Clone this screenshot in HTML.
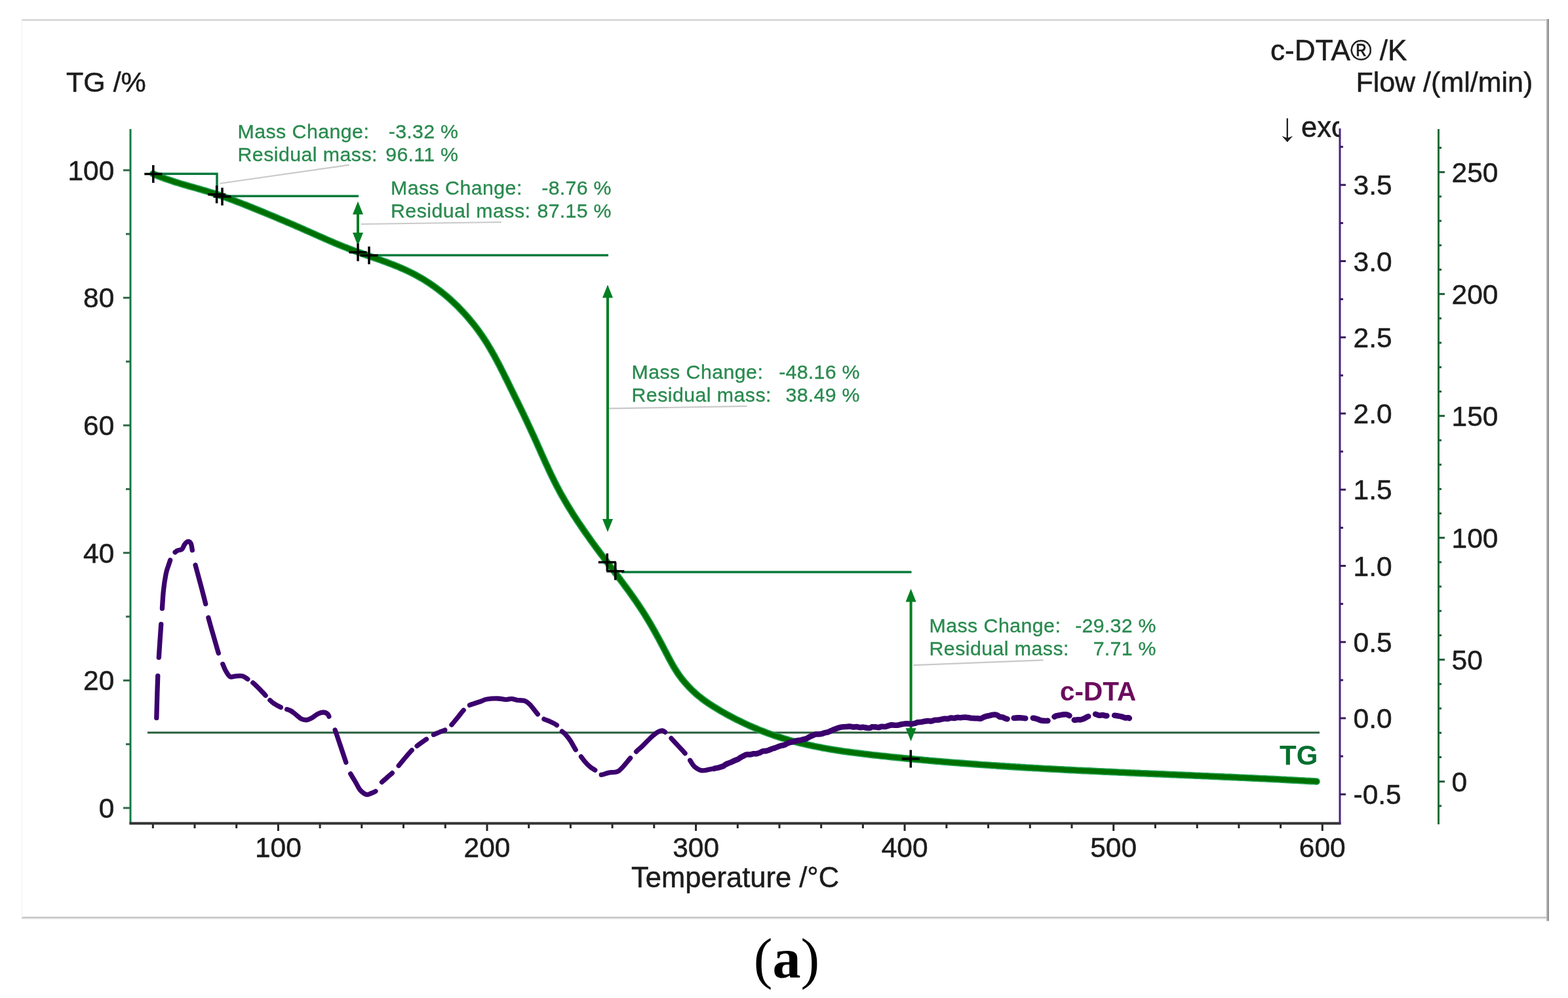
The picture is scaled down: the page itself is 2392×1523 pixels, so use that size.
<!DOCTYPE html><html><head><meta charset="utf-8"><title>TG / c-DTA</title>
<style>html,body{margin:0;padding:0;background:#fff;width:2392px;height:1523px;overflow:hidden}svg{display:block;filter:blur(0.55px)}text{font-family:"Liberation Sans",Arial,sans-serif}</style></head><body>
<svg xmlns="http://www.w3.org/2000/svg" width="2392" height="1523" viewBox="0 0 2392 1523">
<defs><clipPath id="exoclip"><rect x="0" y="0" width="2043" height="400"/></clipPath></defs>
<rect width="2392" height="1523" fill="#fff"/>
<line x1="33" y1="30.5" x2="2362" y2="30.5" stroke="#d3d3d3" stroke-width="2.5"/>
<line x1="33" y1="1400" x2="2362" y2="1400" stroke="#c4c4c4" stroke-width="2"/>
<line x1="33" y1="1401.8" x2="2362" y2="1401.8" stroke="#e0e0e0" stroke-width="1.6"/>
<line x1="33.5" y1="31" x2="33.5" y2="1400" stroke="#f6f6f6" stroke-width="2"/>
<line x1="2360" y1="29" x2="2360" y2="1405.5" stroke="#b6b6b6" stroke-width="2"/>
<line x1="2362" y1="29" x2="2362" y2="1405.5" stroke="#8f8f8f" stroke-width="2"/>
<line x1="199" y1="197" x2="199" y2="1258" stroke="#0b7d45" stroke-width="3"/>
<line x1="188" y1="1233" x2="199" y2="1233" stroke="#2f6a46" stroke-width="3"/>
<text x="174.3" y="1248" font-size="42.5" fill="#1c1c1c" stroke="#1c1c1c" stroke-width="0.5" text-anchor="end">0</text>
<line x1="192" y1="1135.7" x2="199" y2="1135.7" stroke="#2f6a46" stroke-width="3"/>
<line x1="188" y1="1038.4" x2="199" y2="1038.4" stroke="#2f6a46" stroke-width="3"/>
<text x="174.3" y="1053.4" font-size="42.5" fill="#1c1c1c" stroke="#1c1c1c" stroke-width="0.5" text-anchor="end">20</text>
<line x1="192" y1="941" x2="199" y2="941" stroke="#2f6a46" stroke-width="3"/>
<line x1="188" y1="843.7" x2="199" y2="843.7" stroke="#2f6a46" stroke-width="3"/>
<text x="174.3" y="858.7" font-size="42.5" fill="#1c1c1c" stroke="#1c1c1c" stroke-width="0.5" text-anchor="end">40</text>
<line x1="192" y1="746.4" x2="199" y2="746.4" stroke="#2f6a46" stroke-width="3"/>
<line x1="188" y1="649.1" x2="199" y2="649.1" stroke="#2f6a46" stroke-width="3"/>
<text x="174.3" y="664.1" font-size="42.5" fill="#1c1c1c" stroke="#1c1c1c" stroke-width="0.5" text-anchor="end">60</text>
<line x1="192" y1="551.8" x2="199" y2="551.8" stroke="#2f6a46" stroke-width="3"/>
<line x1="188" y1="454.4" x2="199" y2="454.4" stroke="#2f6a46" stroke-width="3"/>
<text x="174.3" y="469.4" font-size="42.5" fill="#1c1c1c" stroke="#1c1c1c" stroke-width="0.5" text-anchor="end">80</text>
<line x1="192" y1="357.1" x2="199" y2="357.1" stroke="#2f6a46" stroke-width="3"/>
<line x1="188" y1="259.8" x2="199" y2="259.8" stroke="#2f6a46" stroke-width="3"/>
<text x="174.3" y="274.8" font-size="42.5" fill="#1c1c1c" stroke="#1c1c1c" stroke-width="0.5" text-anchor="end">100</text>
<line x1="233.3" y1="1256" x2="233.3" y2="1264" stroke="#262626" stroke-width="3"/>
<line x1="297" y1="1256" x2="297" y2="1264" stroke="#262626" stroke-width="3"/>
<line x1="360.7" y1="1256" x2="360.7" y2="1264" stroke="#262626" stroke-width="3"/>
<line x1="424.4" y1="1256" x2="424.4" y2="1268" stroke="#262626" stroke-width="3"/>
<text x="424.4" y="1308.3" font-size="42.5" fill="#1c1c1c" stroke="#1c1c1c" stroke-width="0.5" text-anchor="middle">100</text>
<line x1="488.1" y1="1256" x2="488.1" y2="1264" stroke="#262626" stroke-width="3"/>
<line x1="551.8" y1="1256" x2="551.8" y2="1264" stroke="#262626" stroke-width="3"/>
<line x1="615.5" y1="1256" x2="615.5" y2="1264" stroke="#262626" stroke-width="3"/>
<line x1="679.3" y1="1256" x2="679.3" y2="1264" stroke="#262626" stroke-width="3"/>
<line x1="743" y1="1256" x2="743" y2="1268" stroke="#262626" stroke-width="3"/>
<text x="743" y="1308.3" font-size="42.5" fill="#1c1c1c" stroke="#1c1c1c" stroke-width="0.5" text-anchor="middle">200</text>
<line x1="806.7" y1="1256" x2="806.7" y2="1264" stroke="#262626" stroke-width="3"/>
<line x1="870.4" y1="1256" x2="870.4" y2="1264" stroke="#262626" stroke-width="3"/>
<line x1="934.1" y1="1256" x2="934.1" y2="1264" stroke="#262626" stroke-width="3"/>
<line x1="997.8" y1="1256" x2="997.8" y2="1264" stroke="#262626" stroke-width="3"/>
<line x1="1061.6" y1="1256" x2="1061.6" y2="1268" stroke="#262626" stroke-width="3"/>
<text x="1061.6" y="1308.3" font-size="42.5" fill="#1c1c1c" stroke="#1c1c1c" stroke-width="0.5" text-anchor="middle">300</text>
<line x1="1125.3" y1="1256" x2="1125.3" y2="1264" stroke="#262626" stroke-width="3"/>
<line x1="1189" y1="1256" x2="1189" y2="1264" stroke="#262626" stroke-width="3"/>
<line x1="1252.7" y1="1256" x2="1252.7" y2="1264" stroke="#262626" stroke-width="3"/>
<line x1="1316.4" y1="1256" x2="1316.4" y2="1264" stroke="#262626" stroke-width="3"/>
<line x1="1380.1" y1="1256" x2="1380.1" y2="1268" stroke="#262626" stroke-width="3"/>
<text x="1380.1" y="1308.3" font-size="42.5" fill="#1c1c1c" stroke="#1c1c1c" stroke-width="0.5" text-anchor="middle">400</text>
<line x1="1443.9" y1="1256" x2="1443.9" y2="1264" stroke="#262626" stroke-width="3"/>
<line x1="1507.6" y1="1256" x2="1507.6" y2="1264" stroke="#262626" stroke-width="3"/>
<line x1="1571.3" y1="1256" x2="1571.3" y2="1264" stroke="#262626" stroke-width="3"/>
<line x1="1635" y1="1256" x2="1635" y2="1264" stroke="#262626" stroke-width="3"/>
<line x1="1698.7" y1="1256" x2="1698.7" y2="1268" stroke="#262626" stroke-width="3"/>
<text x="1698.7" y="1308.3" font-size="42.5" fill="#1c1c1c" stroke="#1c1c1c" stroke-width="0.5" text-anchor="middle">500</text>
<line x1="1762.4" y1="1256" x2="1762.4" y2="1264" stroke="#262626" stroke-width="3"/>
<line x1="1826.2" y1="1256" x2="1826.2" y2="1264" stroke="#262626" stroke-width="3"/>
<line x1="1889.9" y1="1256" x2="1889.9" y2="1264" stroke="#262626" stroke-width="3"/>
<line x1="1953.6" y1="1256" x2="1953.6" y2="1264" stroke="#262626" stroke-width="3"/>
<line x1="2017.3" y1="1256" x2="2017.3" y2="1268" stroke="#262626" stroke-width="3"/>
<text x="2017.3" y="1308.3" font-size="42.5" fill="#1c1c1c" stroke="#1c1c1c" stroke-width="0.5" text-anchor="middle">600</text>
<line x1="197.5" y1="1256.5" x2="2045.5" y2="1256.5" stroke="#333" stroke-width="4"/>
<line x1="2044" y1="196" x2="2044" y2="1258" stroke="#4b2380" stroke-width="3"/>
<line x1="2044" y1="1212.2" x2="2053" y2="1212.2" stroke="#3a1a60" stroke-width="3"/>
<text x="2064.5" y="1227.2" font-size="42.5" fill="#1c1c1c" stroke="#1c1c1c" stroke-width="0.5">-0.5</text>
<line x1="2044" y1="1154.1" x2="2049" y2="1154.1" stroke="#3a1a60" stroke-width="3"/>
<line x1="2044" y1="1096" x2="2053" y2="1096" stroke="#3a1a60" stroke-width="3"/>
<text x="2064.5" y="1111" font-size="42.5" fill="#1c1c1c" stroke="#1c1c1c" stroke-width="0.5">0.0</text>
<line x1="2044" y1="1037.9" x2="2049" y2="1037.9" stroke="#3a1a60" stroke-width="3"/>
<line x1="2044" y1="979.8" x2="2053" y2="979.8" stroke="#3a1a60" stroke-width="3"/>
<text x="2064.5" y="994.8" font-size="42.5" fill="#1c1c1c" stroke="#1c1c1c" stroke-width="0.5">0.5</text>
<line x1="2044" y1="921.6" x2="2049" y2="921.6" stroke="#3a1a60" stroke-width="3"/>
<line x1="2044" y1="863.5" x2="2053" y2="863.5" stroke="#3a1a60" stroke-width="3"/>
<text x="2064.5" y="878.5" font-size="42.5" fill="#1c1c1c" stroke="#1c1c1c" stroke-width="0.5">1.0</text>
<line x1="2044" y1="805.4" x2="2049" y2="805.4" stroke="#3a1a60" stroke-width="3"/>
<line x1="2044" y1="747.2" x2="2053" y2="747.2" stroke="#3a1a60" stroke-width="3"/>
<text x="2064.5" y="762.2" font-size="42.5" fill="#1c1c1c" stroke="#1c1c1c" stroke-width="0.5">1.5</text>
<line x1="2044" y1="689.1" x2="2049" y2="689.1" stroke="#3a1a60" stroke-width="3"/>
<line x1="2044" y1="631" x2="2053" y2="631" stroke="#3a1a60" stroke-width="3"/>
<text x="2064.5" y="646" font-size="42.5" fill="#1c1c1c" stroke="#1c1c1c" stroke-width="0.5">2.0</text>
<line x1="2044" y1="572.9" x2="2049" y2="572.9" stroke="#3a1a60" stroke-width="3"/>
<line x1="2044" y1="514.8" x2="2053" y2="514.8" stroke="#3a1a60" stroke-width="3"/>
<text x="2064.5" y="529.8" font-size="42.5" fill="#1c1c1c" stroke="#1c1c1c" stroke-width="0.5">2.5</text>
<line x1="2044" y1="456.6" x2="2049" y2="456.6" stroke="#3a1a60" stroke-width="3"/>
<line x1="2044" y1="398.5" x2="2053" y2="398.5" stroke="#3a1a60" stroke-width="3"/>
<text x="2064.5" y="413.5" font-size="42.5" fill="#1c1c1c" stroke="#1c1c1c" stroke-width="0.5">3.0</text>
<line x1="2044" y1="340.4" x2="2049" y2="340.4" stroke="#3a1a60" stroke-width="3"/>
<line x1="2044" y1="282.2" x2="2053" y2="282.2" stroke="#3a1a60" stroke-width="3"/>
<text x="2064.5" y="297.2" font-size="42.5" fill="#1c1c1c" stroke="#1c1c1c" stroke-width="0.5">3.5</text>
<line x1="2044" y1="224.1" x2="2049" y2="224.1" stroke="#3a1a60" stroke-width="3"/>
<line x1="2194.5" y1="197" x2="2194.5" y2="1258" stroke="#17703c" stroke-width="3"/>
<line x1="2194.5" y1="1229.9" x2="2199" y2="1229.9" stroke="#1d5a34" stroke-width="3"/>
<line x1="2194.5" y1="1192.7" x2="2204" y2="1192.7" stroke="#1d5a34" stroke-width="3"/>
<text x="2214.5" y="1207.7" font-size="42.5" fill="#1c1c1c" stroke="#1c1c1c" stroke-width="0.5">0</text>
<line x1="2194.5" y1="1155.5" x2="2199" y2="1155.5" stroke="#1d5a34" stroke-width="3"/>
<line x1="2194.5" y1="1118.3" x2="2199" y2="1118.3" stroke="#1d5a34" stroke-width="3"/>
<line x1="2194.5" y1="1081.1" x2="2199" y2="1081.1" stroke="#1d5a34" stroke-width="3"/>
<line x1="2194.5" y1="1043.9" x2="2199" y2="1043.9" stroke="#1d5a34" stroke-width="3"/>
<line x1="2194.5" y1="1006.7" x2="2204" y2="1006.7" stroke="#1d5a34" stroke-width="3"/>
<text x="2214.5" y="1021.7" font-size="42.5" fill="#1c1c1c" stroke="#1c1c1c" stroke-width="0.5">50</text>
<line x1="2194.5" y1="969.5" x2="2199" y2="969.5" stroke="#1d5a34" stroke-width="3"/>
<line x1="2194.5" y1="932.3" x2="2199" y2="932.3" stroke="#1d5a34" stroke-width="3"/>
<line x1="2194.5" y1="895.1" x2="2199" y2="895.1" stroke="#1d5a34" stroke-width="3"/>
<line x1="2194.5" y1="857.9" x2="2199" y2="857.9" stroke="#1d5a34" stroke-width="3"/>
<line x1="2194.5" y1="820.7" x2="2204" y2="820.7" stroke="#1d5a34" stroke-width="3"/>
<text x="2214.5" y="835.7" font-size="42.5" fill="#1c1c1c" stroke="#1c1c1c" stroke-width="0.5">100</text>
<line x1="2194.5" y1="783.5" x2="2199" y2="783.5" stroke="#1d5a34" stroke-width="3"/>
<line x1="2194.5" y1="746.3" x2="2199" y2="746.3" stroke="#1d5a34" stroke-width="3"/>
<line x1="2194.5" y1="709.1" x2="2199" y2="709.1" stroke="#1d5a34" stroke-width="3"/>
<line x1="2194.5" y1="671.9" x2="2199" y2="671.9" stroke="#1d5a34" stroke-width="3"/>
<line x1="2194.5" y1="634.7" x2="2204" y2="634.7" stroke="#1d5a34" stroke-width="3"/>
<text x="2214.5" y="649.7" font-size="42.5" fill="#1c1c1c" stroke="#1c1c1c" stroke-width="0.5">150</text>
<line x1="2194.5" y1="597.5" x2="2199" y2="597.5" stroke="#1d5a34" stroke-width="3"/>
<line x1="2194.5" y1="560.3" x2="2199" y2="560.3" stroke="#1d5a34" stroke-width="3"/>
<line x1="2194.5" y1="523.1" x2="2199" y2="523.1" stroke="#1d5a34" stroke-width="3"/>
<line x1="2194.5" y1="485.9" x2="2199" y2="485.9" stroke="#1d5a34" stroke-width="3"/>
<line x1="2194.5" y1="448.7" x2="2204" y2="448.7" stroke="#1d5a34" stroke-width="3"/>
<text x="2214.5" y="463.7" font-size="42.5" fill="#1c1c1c" stroke="#1c1c1c" stroke-width="0.5">200</text>
<line x1="2194.5" y1="411.5" x2="2199" y2="411.5" stroke="#1d5a34" stroke-width="3"/>
<line x1="2194.5" y1="374.3" x2="2199" y2="374.3" stroke="#1d5a34" stroke-width="3"/>
<line x1="2194.5" y1="337.1" x2="2199" y2="337.1" stroke="#1d5a34" stroke-width="3"/>
<line x1="2194.5" y1="299.9" x2="2199" y2="299.9" stroke="#1d5a34" stroke-width="3"/>
<line x1="2194.5" y1="262.7" x2="2204" y2="262.7" stroke="#1d5a34" stroke-width="3"/>
<text x="2214.5" y="277.7" font-size="42.5" fill="#1c1c1c" stroke="#1c1c1c" stroke-width="0.5">250</text>
<line x1="2194.5" y1="225.5" x2="2199" y2="225.5" stroke="#1d5a34" stroke-width="3"/>
<text x="101" y="139.5" font-size="43" fill="#1c1c1c" stroke="#1c1c1c" stroke-width="0.5">TG /%</text>
<text x="1938" y="91.6" font-size="44.2" fill="#1c1c1c" stroke="#1c1c1c" stroke-width="0.5">c-DTA&#174; /K</text>
<text x="2068.4" y="139.8" font-size="43" fill="#1c1c1c" stroke="#1c1c1c" stroke-width="0.5">Flow /(ml/min)</text>
<g clip-path="url(#exoclip)">
<text transform="translate(1963.8 214.3) scale(1.3 1)" x="0" y="0" font-size="42.5" text-anchor="middle" fill="#1c1c1c" style="font-family:'WenQuanYi Zen Hei','Liberation Sans',sans-serif">&#8595;</text>
<text x="1985" y="209" font-size="43.5" fill="#1c1c1c" stroke="#1c1c1c" stroke-width="0.5">exo</text>
</g>
<text x="963" y="1353.8" font-size="43.5" fill="#1c1c1c" stroke="#1c1c1c" stroke-width="0.5">Temperature /&#176;C</text>
<line x1="225" y1="1118" x2="2013" y2="1118" stroke="#285e3a" stroke-width="3"/>
<line x1="335.5" y1="280" x2="532.8" y2="251.7" stroke="#c9c9c9" stroke-width="2.2"/>
<line x1="551" y1="342" x2="764.8" y2="339" stroke="#c9c9c9" stroke-width="2.2"/>
<line x1="928.8" y1="623.4" x2="1139.5" y2="619.9" stroke="#c9c9c9" stroke-width="2.2"/>
<line x1="1393.2" y1="1015.2" x2="1591.6" y2="1007.3" stroke="#c9c9c9" stroke-width="2.2"/>
<path d="M233.4,265.2 237.3,266.9 241.2,268.5 245.1,270.1 249,271.6 252.9,273 256.8,274.3 260.6,275.6 264.5,276.9 268.3,278.1 272.2,279.3 276,280.5 279.9,281.6 283.7,282.7 287.5,283.8 291.3,284.9 295.1,285.9 298.9,287 302.7,288.1 306.5,289.2 310.3,290.3 314.1,291.4 317.8,292.5 321.6,293.7 325.4,294.9 329.1,296.1 332.9,297.3 336.6,298.6 340.4,299.9 344.1,301.3 347.8,302.6 351.6,304 355.3,305.4 359,306.8 362.7,308.2 366.5,309.6 370.2,311.1 373.9,312.5 377.6,314 381.3,315.5 385,317 388.7,318.5 392.4,320 396.1,321.5 399.8,323 403.5,324.5 407.2,326.1 410.9,327.6 414.5,329.1 418.2,330.7 421.9,332.2 425.6,333.8 429.3,335.3 433,336.9 436.6,338.5 440.3,340 444,341.6 447.7,343.2 451.4,344.8 455.1,346.4 458.7,348 462.4,349.6 466.1,351.3 469.8,352.9 473.5,354.5 477.2,356.2 480.9,357.8 484.6,359.5 488.3,361.1 492,362.7 495.7,364.4 499.4,366 503.1,367.6 506.8,369.2 510.5,370.8 514.2,372.3 517.9,373.9 521.6,375.4 525.3,376.9 529.1,378.3 532.8,379.8 536.5,381.2 540.3,382.6 544,384 547.8,385.3 551.5,386.6 555.2,388 559,389.3 562.7,390.6 566.4,391.9 570.2,393.2 573.9,394.5 577.6,395.8 581.3,397.1 585,398.5 588.7,399.8 592.4,401.2 596,402.6 599.7,404 603.4,405.5 607,406.9 610.6,408.5 614.2,410 617.8,411.6 621.4,413.3 624.9,415 628.5,416.7 632,418.5 635.5,420.4 638.9,422.3 642.4,424.3 645.8,426.3 649.2,428.4 652.6,430.6 656,432.8 659.3,435.1 662.6,437.4 665.8,439.8 669.1,442.2 672.3,444.7 675.5,447.2 678.6,449.8 681.7,452.4 684.8,455.1 687.8,457.8 690.9,460.6 693.8,463.4 696.8,466.2 699.7,469.1 702.5,472.1 705.3,475 708.1,478 710.8,481 713.5,484.1 716.2,487.2 718.8,490.3 721.3,493.4 723.8,496.6 726.3,499.8 728.7,503 731,506.2 733.3,509.5 735.6,512.7 737.8,516 740,519.4 742.1,522.7 744.2,526 746.2,529.4 748.2,532.8 750.2,536.2 752.1,539.6 754.1,543 755.9,546.5 757.8,549.9 759.6,553.4 761.5,556.9 763.3,560.4 765,563.9 766.8,567.4 768.6,570.9 770.3,574.5 772.1,578 773.9,581.6 775.6,585.2 777.4,588.8 779.1,592.4 780.9,596 782.7,599.6 784.4,603.2 786.2,606.8 788,610.4 789.8,614.1 791.5,617.7 793.3,621.3 795.1,625 796.8,628.6 798.6,632.3 800.3,635.9 802.1,639.6 803.8,643.3 805.5,646.9 807.2,650.6 808.9,654.3 810.6,657.9 812.3,661.6 814,665.2 815.6,668.9 817.3,672.6 818.9,676.2 820.5,679.9 822.2,683.5 823.8,687.2 825.4,690.8 827,694.5 828.7,698.1 830.3,701.7 831.9,705.4 833.6,709 835.3,712.6 836.9,716.2 838.6,719.8 840.3,723.4 842,726.9 843.8,730.5 845.5,734.1 847.3,737.6 849.1,741.2 851,744.7 852.8,748.2 854.7,751.7 856.6,755.2 858.6,758.7 860.6,762.1 862.6,765.6 864.6,769 866.7,772.5 868.8,775.9 870.9,779.3 873,782.7 875.1,786.1 877.3,789.4 879.5,792.8 881.7,796.2 884,799.5 886.2,802.8 888.5,806.1 890.8,809.5 893,812.8 895.4,816 897.7,819.3 900,822.6 902.3,825.9 904.7,829.1 907.1,832.4 909.4,835.6 911.8,838.8 914.2,842 916.6,845.2 919,848.4 921.4,851.6 923.8,854.8 926.2,858 928.6,861.2 931,864.3 933.4,867.5 935.8,870.6 938.2,873.8 940.6,877 943,880.1 945.3,883.3 947.7,886.4 950.1,889.6 952.4,892.8 954.8,896 957.1,899.2 959.5,902.4 961.8,905.6 964.1,908.8 966.4,912.1 968.7,915.3 970.9,918.6 973.2,921.9 975.4,925.2 977.6,928.6 979.8,931.9 981.9,935.3 984.1,938.7 986.2,942.1 988.3,945.6 990.4,949.1 992.5,952.6 994.5,956.1 996.5,959.6 998.5,963.1 1000.5,966.7 1002.4,970.2 1004.4,973.8 1006.3,977.4 1008.2,980.9 1010.1,984.5 1011.9,988 1013.8,991.6 1015.6,995.1 1017.5,998.6 1019.3,1002.1 1021.1,1005.6 1023,1009 1024.9,1012.5 1026.8,1015.9 1028.8,1019.2 1030.9,1022.6 1033,1025.9 1035.2,1029.2 1037.5,1032.4 1039.9,1035.6 1042.4,1038.7 1045,1041.8 1047.7,1044.8 1050.4,1047.8 1053.3,1050.7 1056.1,1053.6 1059.1,1056.3 1062.1,1059.1 1065.2,1061.7 1068.3,1064.2 1071.5,1066.7 1074.7,1069.1 1078,1071.4 1081.3,1073.7 1084.6,1075.8 1088,1078 1091.4,1080.1 1094.8,1082.1 1098.2,1084.2 1101.6,1086.2 1105.1,1088.1 1108.6,1090.1 1112.1,1092 1115.6,1093.9 1119.1,1095.7 1122.6,1097.6 1126.2,1099.3 1129.8,1101.1 1133.3,1102.8 1136.9,1104.5 1140.6,1106.2 1144.2,1107.8 1147.8,1109.4 1151.5,1111 1155.2,1112.5 1158.9,1114.1 1162.6,1115.5 1166.3,1117 1170,1118.4 1173.7,1119.7 1177.5,1121.1 1181.2,1122.4 1185,1123.7 1188.8,1124.9 1192.6,1126.1 1196.4,1127.3 1200.2,1128.4 1204,1129.5 1207.8,1130.6 1211.7,1131.6 1215.5,1132.6 1219.4,1133.6 1223.3,1134.5 1227.1,1135.4 1231,1136.3 1234.9,1137.2 1238.8,1138 1242.7,1138.9 1246.6,1139.6 1250.6,1140.4 1254.5,1141.2 1258.4,1141.9 1262.4,1142.6 1266.3,1143.3 1270.3,1143.9 1274.2,1144.6 1278.2,1145.2 1282.1,1145.8 1286.1,1146.4 1290.1,1146.9 1294.1,1147.5 1298,1148 1302,1148.6 1306,1149.1 1310,1149.6 1314,1150.1 1318,1150.6 1322,1151 1326,1151.5 1329.9,1152 1333.9,1152.4 1337.9,1152.8 1341.9,1153.3 1345.9,1153.7 1349.9,1154.1 1353.9,1154.5 1357.9,1155 1361.9,1155.4 1365.9,1155.8 1369.9,1156.2 1373.9,1156.6 1377.9,1157 1381.9,1157.4 1385.9,1157.7 1389.9,1158.1 1393.9,1158.5 1397.9,1158.9 1401.8,1159.2 1405.8,1159.6 1409.8,1160 1413.8,1160.3 1417.8,1160.7 1421.8,1161 1425.8,1161.4 1429.8,1161.7 1433.8,1162 1437.8,1162.4 1441.8,1162.7 1445.7,1163 1449.7,1163.4 1453.7,1163.7 1457.7,1164 1461.7,1164.3 1465.7,1164.6 1469.7,1164.9 1473.7,1165.2 1477.7,1165.5 1481.6,1165.8 1485.6,1166.1 1489.6,1166.4 1493.6,1166.7 1497.6,1167 1501.6,1167.2 1505.6,1167.5 1509.6,1167.8 1513.5,1168.1 1517.5,1168.3 1521.5,1168.6 1525.5,1168.9 1529.5,1169.1 1533.5,1169.4 1537.5,1169.6 1541.4,1169.9 1545.4,1170.1 1549.4,1170.4 1553.4,1170.6 1557.4,1170.9 1561.4,1171.1 1565.4,1171.4 1569.3,1171.6 1573.3,1171.8 1577.3,1172.1 1581.3,1172.3 1585.3,1172.5 1589.3,1172.7 1593.3,1173 1597.2,1173.2 1601.2,1173.4 1605.2,1173.6 1609.2,1173.8 1613.2,1174 1617.2,1174.2 1621.2,1174.4 1625.1,1174.7 1629.1,1174.9 1633.1,1175.1 1637.1,1175.3 1641.1,1175.5 1645.1,1175.7 1649.1,1175.9 1653.1,1176.1 1657,1176.3 1661,1176.4 1665,1176.6 1669,1176.8 1673,1177 1677,1177.2 1681,1177.4 1684.9,1177.6 1688.9,1177.8 1692.9,1177.9 1696.9,1178.1 1700.9,1178.3 1704.9,1178.5 1708.9,1178.7 1712.9,1178.8 1716.8,1179 1720.8,1179.2 1724.8,1179.4 1728.8,1179.5 1732.8,1179.7 1736.8,1179.9 1740.8,1180.1 1744.8,1180.2 1748.7,1180.4 1752.7,1180.6 1756.7,1180.8 1760.7,1180.9 1764.7,1181.1 1768.7,1181.3 1772.7,1181.4 1776.7,1181.6 1780.7,1181.8 1784.7,1182 1788.6,1182.1 1792.6,1182.3 1796.6,1182.5 1800.6,1182.6 1804.6,1182.8 1808.6,1183 1812.6,1183.1 1816.6,1183.3 1820.6,1183.5 1824.6,1183.7 1828.6,1183.8 1832.6,1184 1836.6,1184.2 1840.5,1184.3 1844.5,1184.5 1848.5,1184.7 1852.5,1184.9 1856.5,1185 1860.5,1185.2 1864.5,1185.4 1868.5,1185.6 1872.5,1185.7 1876.5,1185.9 1880.5,1186.1 1884.5,1186.3 1888.5,1186.5 1892.5,1186.7 1896.5,1186.8 1900.5,1187 1904.5,1187.2 1908.5,1187.4 1912.5,1187.6 1916.5,1187.8 1920.5,1188 1924.5,1188.2 1928.5,1188.3 1932.5,1188.5 1936.5,1188.7 1940.5,1188.9 1944.5,1189.1 1948.5,1189.3 1952.5,1189.5 1956.5,1189.7 1960.5,1189.9 1964.5,1190.2 1968.5,1190.4 1972.6,1190.6 1976.6,1190.8 1980.6,1191 1984.6,1191.2 1988.6,1191.4 1992.6,1191.7 1996.6,1191.9 2000.6,1192.1 2004.6,1192.3 2008.6,1192.6" fill="none" stroke="#23a050" stroke-width="10.6" stroke-linecap="round" stroke-linejoin="round"/>
<path d="M233.4,265.2 237.3,266.9 241.2,268.5 245.1,270.1 249,271.6 252.9,273 256.8,274.3 260.6,275.6 264.5,276.9 268.3,278.1 272.2,279.3 276,280.5 279.9,281.6 283.7,282.7 287.5,283.8 291.3,284.9 295.1,285.9 298.9,287 302.7,288.1 306.5,289.2 310.3,290.3 314.1,291.4 317.8,292.5 321.6,293.7 325.4,294.9 329.1,296.1 332.9,297.3 336.6,298.6 340.4,299.9 344.1,301.3 347.8,302.6 351.6,304 355.3,305.4 359,306.8 362.7,308.2 366.5,309.6 370.2,311.1 373.9,312.5 377.6,314 381.3,315.5 385,317 388.7,318.5 392.4,320 396.1,321.5 399.8,323 403.5,324.5 407.2,326.1 410.9,327.6 414.5,329.1 418.2,330.7 421.9,332.2 425.6,333.8 429.3,335.3 433,336.9 436.6,338.5 440.3,340 444,341.6 447.7,343.2 451.4,344.8 455.1,346.4 458.7,348 462.4,349.6 466.1,351.3 469.8,352.9 473.5,354.5 477.2,356.2 480.9,357.8 484.6,359.5 488.3,361.1 492,362.7 495.7,364.4 499.4,366 503.1,367.6 506.8,369.2 510.5,370.8 514.2,372.3 517.9,373.9 521.6,375.4 525.3,376.9 529.1,378.3 532.8,379.8 536.5,381.2 540.3,382.6 544,384 547.8,385.3 551.5,386.6 555.2,388 559,389.3 562.7,390.6 566.4,391.9 570.2,393.2 573.9,394.5 577.6,395.8 581.3,397.1 585,398.5 588.7,399.8 592.4,401.2 596,402.6 599.7,404 603.4,405.5 607,406.9 610.6,408.5 614.2,410 617.8,411.6 621.4,413.3 624.9,415 628.5,416.7 632,418.5 635.5,420.4 638.9,422.3 642.4,424.3 645.8,426.3 649.2,428.4 652.6,430.6 656,432.8 659.3,435.1 662.6,437.4 665.8,439.8 669.1,442.2 672.3,444.7 675.5,447.2 678.6,449.8 681.7,452.4 684.8,455.1 687.8,457.8 690.9,460.6 693.8,463.4 696.8,466.2 699.7,469.1 702.5,472.1 705.3,475 708.1,478 710.8,481 713.5,484.1 716.2,487.2 718.8,490.3 721.3,493.4 723.8,496.6 726.3,499.8 728.7,503 731,506.2 733.3,509.5 735.6,512.7 737.8,516 740,519.4 742.1,522.7 744.2,526 746.2,529.4 748.2,532.8 750.2,536.2 752.1,539.6 754.1,543 755.9,546.5 757.8,549.9 759.6,553.4 761.5,556.9 763.3,560.4 765,563.9 766.8,567.4 768.6,570.9 770.3,574.5 772.1,578 773.9,581.6 775.6,585.2 777.4,588.8 779.1,592.4 780.9,596 782.7,599.6 784.4,603.2 786.2,606.8 788,610.4 789.8,614.1 791.5,617.7 793.3,621.3 795.1,625 796.8,628.6 798.6,632.3 800.3,635.9 802.1,639.6 803.8,643.3 805.5,646.9 807.2,650.6 808.9,654.3 810.6,657.9 812.3,661.6 814,665.2 815.6,668.9 817.3,672.6 818.9,676.2 820.5,679.9 822.2,683.5 823.8,687.2 825.4,690.8 827,694.5 828.7,698.1 830.3,701.7 831.9,705.4 833.6,709 835.3,712.6 836.9,716.2 838.6,719.8 840.3,723.4 842,726.9 843.8,730.5 845.5,734.1 847.3,737.6 849.1,741.2 851,744.7 852.8,748.2 854.7,751.7 856.6,755.2 858.6,758.7 860.6,762.1 862.6,765.6 864.6,769 866.7,772.5 868.8,775.9 870.9,779.3 873,782.7 875.1,786.1 877.3,789.4 879.5,792.8 881.7,796.2 884,799.5 886.2,802.8 888.5,806.1 890.8,809.5 893,812.8 895.4,816 897.7,819.3 900,822.6 902.3,825.9 904.7,829.1 907.1,832.4 909.4,835.6 911.8,838.8 914.2,842 916.6,845.2 919,848.4 921.4,851.6 923.8,854.8 926.2,858 928.6,861.2 931,864.3 933.4,867.5 935.8,870.6 938.2,873.8 940.6,877 943,880.1 945.3,883.3 947.7,886.4 950.1,889.6 952.4,892.8 954.8,896 957.1,899.2 959.5,902.4 961.8,905.6 964.1,908.8 966.4,912.1 968.7,915.3 970.9,918.6 973.2,921.9 975.4,925.2 977.6,928.6 979.8,931.9 981.9,935.3 984.1,938.7 986.2,942.1 988.3,945.6 990.4,949.1 992.5,952.6 994.5,956.1 996.5,959.6 998.5,963.1 1000.5,966.7 1002.4,970.2 1004.4,973.8 1006.3,977.4 1008.2,980.9 1010.1,984.5 1011.9,988 1013.8,991.6 1015.6,995.1 1017.5,998.6 1019.3,1002.1 1021.1,1005.6 1023,1009 1024.9,1012.5 1026.8,1015.9 1028.8,1019.2 1030.9,1022.6 1033,1025.9 1035.2,1029.2 1037.5,1032.4 1039.9,1035.6 1042.4,1038.7 1045,1041.8 1047.7,1044.8 1050.4,1047.8 1053.3,1050.7 1056.1,1053.6 1059.1,1056.3 1062.1,1059.1 1065.2,1061.7 1068.3,1064.2 1071.5,1066.7 1074.7,1069.1 1078,1071.4 1081.3,1073.7 1084.6,1075.8 1088,1078 1091.4,1080.1 1094.8,1082.1 1098.2,1084.2 1101.6,1086.2 1105.1,1088.1 1108.6,1090.1 1112.1,1092 1115.6,1093.9 1119.1,1095.7 1122.6,1097.6 1126.2,1099.3 1129.8,1101.1 1133.3,1102.8 1136.9,1104.5 1140.6,1106.2 1144.2,1107.8 1147.8,1109.4 1151.5,1111 1155.2,1112.5 1158.9,1114.1 1162.6,1115.5 1166.3,1117 1170,1118.4 1173.7,1119.7 1177.5,1121.1 1181.2,1122.4 1185,1123.7 1188.8,1124.9 1192.6,1126.1 1196.4,1127.3 1200.2,1128.4 1204,1129.5 1207.8,1130.6 1211.7,1131.6 1215.5,1132.6 1219.4,1133.6 1223.3,1134.5 1227.1,1135.4 1231,1136.3 1234.9,1137.2 1238.8,1138 1242.7,1138.9 1246.6,1139.6 1250.6,1140.4 1254.5,1141.2 1258.4,1141.9 1262.4,1142.6 1266.3,1143.3 1270.3,1143.9 1274.2,1144.6 1278.2,1145.2 1282.1,1145.8 1286.1,1146.4 1290.1,1146.9 1294.1,1147.5 1298,1148 1302,1148.6 1306,1149.1 1310,1149.6 1314,1150.1 1318,1150.6 1322,1151 1326,1151.5 1329.9,1152 1333.9,1152.4 1337.9,1152.8 1341.9,1153.3 1345.9,1153.7 1349.9,1154.1 1353.9,1154.5 1357.9,1155 1361.9,1155.4 1365.9,1155.8 1369.9,1156.2 1373.9,1156.6 1377.9,1157 1381.9,1157.4 1385.9,1157.7 1389.9,1158.1 1393.9,1158.5 1397.9,1158.9 1401.8,1159.2 1405.8,1159.6 1409.8,1160 1413.8,1160.3 1417.8,1160.7 1421.8,1161 1425.8,1161.4 1429.8,1161.7 1433.8,1162 1437.8,1162.4 1441.8,1162.7 1445.7,1163 1449.7,1163.4 1453.7,1163.7 1457.7,1164 1461.7,1164.3 1465.7,1164.6 1469.7,1164.9 1473.7,1165.2 1477.7,1165.5 1481.6,1165.8 1485.6,1166.1 1489.6,1166.4 1493.6,1166.7 1497.6,1167 1501.6,1167.2 1505.6,1167.5 1509.6,1167.8 1513.5,1168.1 1517.5,1168.3 1521.5,1168.6 1525.5,1168.9 1529.5,1169.1 1533.5,1169.4 1537.5,1169.6 1541.4,1169.9 1545.4,1170.1 1549.4,1170.4 1553.4,1170.6 1557.4,1170.9 1561.4,1171.1 1565.4,1171.4 1569.3,1171.6 1573.3,1171.8 1577.3,1172.1 1581.3,1172.3 1585.3,1172.5 1589.3,1172.7 1593.3,1173 1597.2,1173.2 1601.2,1173.4 1605.2,1173.6 1609.2,1173.8 1613.2,1174 1617.2,1174.2 1621.2,1174.4 1625.1,1174.7 1629.1,1174.9 1633.1,1175.1 1637.1,1175.3 1641.1,1175.5 1645.1,1175.7 1649.1,1175.9 1653.1,1176.1 1657,1176.3 1661,1176.4 1665,1176.6 1669,1176.8 1673,1177 1677,1177.2 1681,1177.4 1684.9,1177.6 1688.9,1177.8 1692.9,1177.9 1696.9,1178.1 1700.9,1178.3 1704.9,1178.5 1708.9,1178.7 1712.9,1178.8 1716.8,1179 1720.8,1179.2 1724.8,1179.4 1728.8,1179.5 1732.8,1179.7 1736.8,1179.9 1740.8,1180.1 1744.8,1180.2 1748.7,1180.4 1752.7,1180.6 1756.7,1180.8 1760.7,1180.9 1764.7,1181.1 1768.7,1181.3 1772.7,1181.4 1776.7,1181.6 1780.7,1181.8 1784.7,1182 1788.6,1182.1 1792.6,1182.3 1796.6,1182.5 1800.6,1182.6 1804.6,1182.8 1808.6,1183 1812.6,1183.1 1816.6,1183.3 1820.6,1183.5 1824.6,1183.7 1828.6,1183.8 1832.6,1184 1836.6,1184.2 1840.5,1184.3 1844.5,1184.5 1848.5,1184.7 1852.5,1184.9 1856.5,1185 1860.5,1185.2 1864.5,1185.4 1868.5,1185.6 1872.5,1185.7 1876.5,1185.9 1880.5,1186.1 1884.5,1186.3 1888.5,1186.5 1892.5,1186.7 1896.5,1186.8 1900.5,1187 1904.5,1187.2 1908.5,1187.4 1912.5,1187.6 1916.5,1187.8 1920.5,1188 1924.5,1188.2 1928.5,1188.3 1932.5,1188.5 1936.5,1188.7 1940.5,1188.9 1944.5,1189.1 1948.5,1189.3 1952.5,1189.5 1956.5,1189.7 1960.5,1189.9 1964.5,1190.2 1968.5,1190.4 1972.6,1190.6 1976.6,1190.8 1980.6,1191 1984.6,1191.2 1988.6,1191.4 1992.6,1191.7 1996.6,1191.9 2000.6,1192.1 2004.6,1192.3 2008.6,1192.6" fill="none" stroke="#006f00" stroke-width="7.4" stroke-linecap="round" stroke-linejoin="round"/>
<path d="M234,265.3 H331 V296" fill="none" stroke="#087a3c" stroke-width="3.5"/>
<line x1="339" y1="299.3" x2="547" y2="299.3" stroke="#087a3c" stroke-width="3.5"/>
<line x1="563" y1="389.4" x2="928" y2="389.4" stroke="#087a3c" stroke-width="3.5"/>
<line x1="948" y1="873" x2="1390.5" y2="873" stroke="#087a3c" stroke-width="3.5"/>
<line x1="546" y1="322.2" x2="546" y2="360" stroke="#047f22" stroke-width="4"/><path d="M546,307.2 L538,327.2 L554,327.2 Z" fill="#047f22"/><path d="M546,375 L538,355 L554,355 Z" fill="#047f22"/>
<line x1="927" y1="449.5" x2="927" y2="797" stroke="#047f22" stroke-width="4"/><path d="M927,434.5 L919,454.5 L935,454.5 Z" fill="#047f22"/><path d="M927,812 L919,792 L935,792 Z" fill="#047f22"/>
<line x1="1389.6" y1="913.5" x2="1389.6" y2="1116.3" stroke="#047f22" stroke-width="4"/><path d="M1389.6,898.5 L1381.6,918.5 L1397.6,918.5 Z" fill="#047f22"/><path d="M1389.6,1131.3 L1381.6,1111.3 L1397.6,1111.3 Z" fill="#047f22"/>
<path d="M220.3,265.5 H247.3 M233.8,252 V279" stroke="#000" stroke-width="3.5" fill="none"/>
<path d="M317.1,296.7 H344.1 M330.6,283.2 V310.2" stroke="#000" stroke-width="3.5" fill="none"/>
<path d="M325.5,300 H352.5 M339,286.5 V313.5" stroke="#000" stroke-width="3.5" fill="none"/>
<path d="M532.5,385 H559.5 M546,371.5 V398.5" stroke="#000" stroke-width="3.5" fill="none"/>
<path d="M549.5,389.7 H576.5 M563,376.2 V403.2" stroke="#000" stroke-width="3.5" fill="none"/>
<path d="M912.8,858.1 H939.8 M926.3,844.6 V871.6" stroke="#000" stroke-width="3.5" fill="none"/>
<path d="M925.3,871.8 H952.3 M938.8,858.3 V885.3" stroke="#000" stroke-width="3.5" fill="none"/>
<path d="M1375.8,1158 H1402.8 M1389.3,1144.5 V1171.5" stroke="#000" stroke-width="3.5" fill="none"/>
<defs><clipPath id="tailclip"><rect x="1088" y="1000" width="700" height="250"/></clipPath></defs>
<path d="M238.8,1095.6 C239,1089.7 239.5,1070.9 239.8,1060 C240.1,1049.1 240.5,1038 240.8,1030 C241.1,1022 241.3,1020.7 241.8,1012 C242.3,1003.3 243.3,988.5 244,978 C244.7,967.5 245.5,956.4 246,949.2 C246.5,942 246.4,942.9 247,935 C247.6,927.1 248.3,911.8 249.3,901.9 C250.3,892 251.8,882.6 253.2,875.6 C254.6,868.6 256.5,864.5 258,860 C259.5,855.5 260.4,851.6 262.4,848.4 C264.4,845.1 267.5,842.2 270,840.5 C272.5,838.8 275.6,839.8 277.5,838.2 C279.4,836.6 280,833 281.5,831 C283,829 285.1,826.6 286.7,826.4 C288.3,826.2 290.1,827 291.3,829.7 C292.5,832.4 292.9,838 293.9,842.8 C294.9,847.6 295.3,850.7 297.2,858.6 C299.1,866.5 302.6,879.1 305.5,890 C308.4,900.9 312.4,916.1 314.3,924.2 C316.2,932.3 315.1,931.4 316.9,938.7 C318.7,946 322.1,958 325,968 C327.9,978 331.8,992 334,999 C336.2,1006 336.7,1005.9 338.4,1010 C340.1,1014.1 342.1,1019.6 344.2,1023.4 C346.3,1027.2 348.4,1031.2 350.9,1032.6 C353.4,1034 356.1,1031.9 359.3,1031.8 C362.5,1031.7 366.9,1031 370.1,1031.8 C373.3,1032.6 375.4,1034.7 378.5,1036.8 C381.6,1038.9 384.7,1040.9 388.5,1044.3 C392.3,1047.7 397.6,1053.3 401.1,1056.9 C404.6,1060.5 406.6,1063.3 409.4,1066.1 C412.2,1068.9 414.3,1071.2 417.8,1073.6 C421.3,1076 426.1,1078.5 430.3,1080.3 C434.5,1082.1 439.4,1082.7 442.9,1084.4 C446.4,1086.1 448.4,1088.2 451.2,1090.3 C454,1092.4 456.8,1095.6 459.6,1097 C462.4,1098.4 465.2,1099 468,1098.7 C470.8,1098.4 473.5,1096.8 476.3,1095.3 C479.1,1093.8 481.9,1090.9 484.7,1089.5 C487.5,1088.1 490.5,1087 493,1087 C495.5,1087 498,1088 499.7,1089.5 C501.4,1091 501.4,1092.7 503.1,1096.2 C504.8,1099.7 507.2,1103.6 509.8,1110.4 C512.5,1117.2 515.9,1127.8 519,1137 C522.1,1146.2 526.2,1158.9 528.6,1165.7 C531,1172.5 530.9,1173.3 533.3,1178.1 C535.7,1182.9 540.1,1189.7 542.8,1194.3 C545.5,1198.9 546.8,1202.7 549.5,1205.7 C552.2,1208.7 556.1,1211.6 559,1212.4 C561.9,1213.2 563.9,1211.6 566.6,1210.5 C569.3,1209.4 573,1208.1 575.2,1205.7 C577.4,1203.3 577.5,1199.3 580,1196.2 C582.5,1193.1 586.7,1190 590,1187 C593.3,1184 597.4,1180.7 600,1178.1 C602.6,1175.5 603.3,1174.2 605.7,1171.4 C608.1,1168.6 611,1165 614.3,1161 C617.6,1157 622.8,1150.8 625.7,1147.6 C628.6,1144.4 628.8,1144.3 631.5,1142 C634.2,1139.7 638.5,1136.5 642,1134 C645.5,1131.5 649.7,1128.5 652.4,1126.7 C655.1,1124.9 655.2,1124.4 658.1,1122.9 C661,1121.4 666.4,1119.1 670,1117.5 C673.6,1115.9 677.2,1115 680,1113.5 C682.8,1112 683.9,1111.3 686.7,1108.5 C689.5,1105.7 693.4,1100.8 696.7,1096.8 C700.1,1092.8 703.7,1087.6 706.8,1084.3 C709.9,1081 711.9,1078.7 715.1,1076.8 C718.3,1074.9 722.8,1073.9 726,1072.8 C729.2,1071.7 731.5,1071 734.3,1070 C737.1,1069 738.5,1067.7 742.7,1067 C746.9,1066.3 754.5,1065.9 759.4,1066 C764.3,1066.1 768.5,1067.5 772,1067.6 C775.5,1067.6 777.5,1066.2 780.3,1066.3 C783.1,1066.4 785.2,1067.8 788.7,1068.4 C792.2,1069 797.7,1068.5 801.2,1069.8 C804.7,1071.1 806.4,1073.1 809.6,1076.5 C812.8,1079.9 817.3,1086.7 820.5,1090.1 C823.7,1093.5 825.7,1095 828.8,1096.8 C831.9,1098.6 835.4,1099.3 838.9,1101 C842.4,1102.7 846.8,1104.5 849.7,1106.9 C852.6,1109.3 854.4,1113 856.4,1115.2 C858.4,1117.4 859.7,1117.5 862,1120 C864.3,1122.5 867.3,1126.1 870,1130.1 C872.7,1134.1 875.4,1140.1 878.1,1144.1 C880.8,1148.1 883.8,1151.2 886.1,1154.2 C888.4,1157.2 889.8,1159.5 892.1,1162.2 C894.4,1164.9 897.2,1167.9 900.1,1170.2 C903,1172.5 906.5,1174.3 909.2,1176.3 C911.9,1178.3 913,1181.8 916.2,1182.3 C919.4,1182.8 923.9,1180.1 928.2,1179.3 C932.6,1178.5 938.6,1178.8 942.3,1177.3 C946,1175.8 947.1,1173.5 950.3,1170.2 C953.5,1166.9 957.9,1161 961.3,1157.2 C964.6,1153.4 967.2,1150.4 970.4,1147.2 C973.6,1144 976.6,1141.8 980.4,1138.1 C984.2,1134.4 989.5,1128.6 993.4,1125.1 C997.2,1121.6 1000.6,1118.8 1003.5,1117.1 C1006.4,1115.4 1008.5,1114.8 1010.5,1115 C1012.5,1115.2 1013.5,1116.4 1015.5,1118.1 C1017.5,1119.8 1019.5,1121.9 1022.5,1125.1 C1025.5,1128.3 1029.8,1132.9 1033.6,1137.1 C1037.4,1141.3 1042.4,1146.3 1045.6,1150.2 C1048.8,1154.1 1050.2,1156.9 1052.6,1160.2 C1054.9,1163.5 1056.7,1167.6 1059.7,1170.2 C1062.7,1172.8 1066.7,1175.2 1070.7,1175.8 C1074.7,1176.4 1079.9,1174.5 1083.8,1173.8 C1087.7,1173.1 1091.6,1172.4 1094.1,1171.9 C1096.6,1171.4 1097.2,1171.1 1098.8,1170.7 C1100.3,1170.2 1102,1169.9 1103.4,1169.2 C1104.7,1168.6 1105.5,1167.5 1106.8,1166.7 C1108.1,1166 1109.8,1165.3 1111.4,1164.6 C1113,1164 1114.6,1163.6 1116.1,1162.9 C1117.7,1162.2 1119.2,1161.1 1120.9,1160.4 C1122.5,1159.7 1124.5,1159.3 1126,1158.6 C1127.5,1157.9 1128.3,1156.9 1129.7,1156.1 C1131.1,1155.2 1132.8,1154.3 1134.3,1153.6 C1135.8,1152.8 1136.9,1151.9 1138.6,1151.6 C1140.3,1151.2 1142.8,1151.6 1144.5,1151.4 C1146.3,1151.2 1147.7,1150.5 1149.3,1150.3 C1150.9,1150.1 1152.5,1150.5 1154.1,1150.3 C1155.7,1150 1157.3,1149.4 1158.9,1148.8 C1160.4,1148.1 1161.9,1146.8 1163.6,1146.4 C1165.2,1145.9 1167,1146.3 1168.6,1146 C1170.2,1145.7 1171.7,1145.1 1173.2,1144.6 C1174.7,1144 1176,1143.4 1177.5,1142.8 C1179,1142.3 1180.6,1142 1182.3,1141.4 C1183.9,1140.9 1185.9,1139.9 1187.5,1139.3 C1189.1,1138.7 1190.3,1138.3 1191.8,1137.9 C1193.4,1137.4 1195.5,1137.4 1197.1,1136.8 C1198.6,1136.2 1199.7,1135 1201.2,1134.3 C1202.8,1133.6 1204.9,1133.1 1206.4,1132.7 C1208,1132.3 1209.1,1132.2 1210.6,1131.8 C1212.2,1131.4 1214.2,1130.6 1215.9,1130.3 C1217.7,1129.9 1219.6,1129.9 1221.1,1129.6 C1222.7,1129.2 1223.7,1128.7 1225.3,1128.3 C1226.9,1127.9 1228.9,1127.7 1230.5,1127.1 C1232.1,1126.5 1233.3,1125.4 1234.7,1124.7 C1236.1,1124 1237.3,1123.4 1238.8,1122.8 C1240.4,1122.1 1242.3,1121 1244,1120.6 C1245.8,1120.3 1247.7,1120.6 1249.3,1120.4 C1250.9,1120.3 1251.9,1120.2 1253.5,1119.8 C1255.1,1119.4 1257.2,1118.5 1258.7,1118.1 C1260.3,1117.6 1261.4,1117.8 1262.9,1117.3 C1264.5,1116.8 1266.5,1115.7 1268.1,1115 C1269.7,1114.3 1271.1,1113.6 1272.7,1113 C1274.3,1112.4 1276.1,1111.8 1277.5,1111.3 C1279,1110.8 1279.7,1110.3 1281.4,1110 C1283,1109.6 1285.5,1109.4 1287.3,1109.2 C1289.1,1109 1290.9,1109.1 1292.4,1109 C1293.8,1108.8 1294.4,1108.4 1296.1,1108.5 C1297.7,1108.6 1300.5,1109.4 1302.3,1109.5 C1304.1,1109.6 1305.3,1109 1306.9,1109.1 C1308.5,1109.2 1310.2,1110 1311.9,1110.1 C1313.6,1110.2 1315.4,1109.5 1317.2,1109.7 C1318.9,1109.8 1320.7,1110.6 1322.4,1110.8 C1324.2,1111 1326.4,1111 1327.7,1110.7 C1329,1110.5 1328.9,1109.5 1330.2,1109.3 C1331.5,1109.1 1333.5,1109.2 1335.2,1109.4 C1336.9,1109.5 1338.6,1110.1 1340.2,1110.1 C1341.9,1110 1343.6,1109 1345.2,1108.8 C1346.9,1108.6 1348.6,1109.2 1350.3,1109 C1351.9,1108.8 1353.6,1107.9 1355.3,1107.5 C1357,1107 1358.6,1106.5 1360.3,1106.4 C1362,1106.3 1363.6,1106.8 1365.3,1106.8 C1367,1106.8 1368.7,1106.8 1370.3,1106.6 C1372,1106.3 1373.7,1105.6 1375.4,1105.3 C1377,1104.9 1378.7,1104.7 1380.4,1104.5 C1382,1104.4 1383.7,1104.3 1385.4,1104.4 C1387.1,1104.4 1388.7,1104.9 1390.4,1104.8 C1392.1,1104.8 1393.7,1104.3 1395.4,1103.9 C1397.1,1103.5 1398.8,1102.6 1400.4,1102.2 C1402.1,1101.9 1403.8,1102 1405.5,1101.8 C1407.1,1101.5 1408.8,1101.1 1410.5,1100.8 C1412.1,1100.6 1413.8,1100.1 1415.5,1100.1 C1417.2,1100 1418.8,1100.8 1420.5,1100.6 C1422.2,1100.4 1423.8,1099.2 1425.5,1098.9 C1427.2,1098.6 1428.9,1098.9 1430.5,1098.8 C1432.2,1098.6 1433.9,1098.2 1435.5,1097.8 C1437.2,1097.5 1438.9,1096.9 1440.6,1096.7 C1442.2,1096.6 1443.9,1097.2 1445.6,1097 C1447.3,1096.8 1448.9,1095.7 1450.6,1095.5 C1452.3,1095.3 1454.1,1096.1 1455.8,1095.9 C1457.6,1095.8 1460,1094.9 1461.4,1094.8 C1462.8,1094.7 1462.8,1095.2 1464.2,1095.2 C1465.5,1095.2 1467.8,1094.8 1469.6,1094.7 C1471.3,1094.6 1472.7,1094.5 1474.6,1094.7 C1476.4,1094.8 1478.7,1095.5 1480.7,1095.8 C1482.7,1096 1484.5,1096 1486.3,1096.1 C1488.1,1096.1 1489.9,1096.1 1491.5,1096.2 C1493.1,1096.3 1494.3,1097 1495.9,1096.7 C1497.5,1096.4 1499.4,1095 1501,1094.3 C1502.5,1093.7 1503.8,1093.3 1505.2,1092.9 C1506.7,1092.5 1508.2,1092.2 1509.8,1091.9 C1511.5,1091.5 1513.4,1091 1515.2,1090.8 C1516.9,1090.7 1518.6,1090.4 1520.3,1091 C1521.9,1091.5 1523.6,1093.3 1525.1,1093.9 C1526.6,1094.5 1527.9,1094 1529.4,1094.5 C1530.9,1094.9 1532.7,1096.1 1534.3,1096.6 C1535.8,1097 1537.2,1097.5 1538.9,1097.4 C1540.5,1097.3 1542.5,1096.2 1544,1095.9 C1545.6,1095.6 1546.5,1095.8 1548,1095.7 C1549.5,1095.6 1551.3,1095.4 1553,1095.4 C1554.8,1095.4 1556.5,1095.3 1558.3,1095.5 C1560.2,1095.6 1562.4,1096.3 1564.2,1096.2 C1566,1096.1 1567.5,1095 1569.1,1094.9 C1570.8,1094.8 1572.6,1095.3 1574.2,1095.5 C1575.8,1095.8 1577.1,1095.9 1578.6,1096.2 C1580.1,1096.5 1581.6,1097 1583.2,1097.5 C1584.8,1098.1 1586.6,1099.2 1588.3,1099.5 C1589.9,1099.9 1591.3,1099.8 1592.9,1099.9 C1594.6,1099.9 1596.3,1100.2 1598,1099.9 C1599.7,1099.6 1601.6,1098.8 1603.1,1097.9 C1604.6,1097 1605.7,1095.7 1607,1094.8 C1608.4,1093.9 1609.8,1092.9 1611.3,1092.4 C1612.8,1091.9 1614.5,1091.8 1616.1,1091.5 C1617.8,1091.2 1619.7,1090.7 1621.4,1090.5 C1623.1,1090.3 1624.8,1090.1 1626.4,1090.3 C1628,1090.5 1629.6,1091.1 1631,1091.9 C1632.5,1092.8 1633.8,1094.2 1635.2,1095.4 C1636.5,1096.5 1637.6,1098.3 1639.1,1098.8 C1640.5,1099.2 1642.1,1098.3 1643.7,1098.2 C1645.3,1098.1 1647.2,1098.5 1648.8,1098.3 C1650.4,1098.1 1651.5,1097.5 1653.1,1096.9 C1654.6,1096.2 1656.6,1095 1658.2,1094.2 C1659.9,1093.4 1661.4,1092.6 1663,1091.9 C1664.5,1091.2 1666.1,1090.4 1667.5,1090 C1668.9,1089.7 1669.9,1089.6 1671.4,1089.9 C1672.9,1090.2 1674.8,1091.6 1676.7,1091.8 C1678.5,1092 1680.6,1091.1 1682.4,1091.2 C1684.2,1091.3 1685.7,1092.3 1687.4,1092.4 C1689,1092.4 1690.8,1091.5 1692.4,1091.4 C1694,1091.3 1695.3,1091.5 1696.8,1091.6 C1698.4,1091.7 1700.2,1091.8 1701.8,1092 C1703.3,1092.2 1704.6,1092.4 1706.3,1092.7 C1708,1093 1710.1,1093.3 1711.8,1093.8 C1713.5,1094.2 1714.8,1095.2 1716.4,1095.5 C1718,1095.7 1720.4,1095.1 1721.5,1095.2 C1722.6,1095.3 1722.6,1096 1722.8,1096.1" fill="none" stroke="#3b006d" stroke-width="7.3" stroke-linecap="round" stroke-linejoin="round" stroke-dasharray="64.2 28.3 50.6 24.3 74.9 14.3 43.1 23.3 60.9 21.8 55.9 18.3 50.8 9.8 27.2 9.8 19.9 9.8 75.3 22.3 51.9 19.3 55.3 17.3 20.7 15.3 30.8 10.3 17.5 13.3 18.5 13.3 28.5 12.3 114.8 12.3 21.5 12.3 35.4 13.3 29.9 12.3 53.8 13.3 56.9 13.3 30.9 13.3 508.5 10.3 17.6 11.8 23.2 11.8 23.8 9.8 22.5 11.8 17.8 11.8 75.8 10"/>
<path d="M238.8,1095.6 C239,1089.7 239.5,1070.9 239.8,1060 C240.1,1049.1 240.5,1038 240.8,1030 C241.1,1022 241.3,1020.7 241.8,1012 C242.3,1003.3 243.3,988.5 244,978 C244.7,967.5 245.5,956.4 246,949.2 C246.5,942 246.4,942.9 247,935 C247.6,927.1 248.3,911.8 249.3,901.9 C250.3,892 251.8,882.6 253.2,875.6 C254.6,868.6 256.5,864.5 258,860 C259.5,855.5 260.4,851.6 262.4,848.4 C264.4,845.1 267.5,842.2 270,840.5 C272.5,838.8 275.6,839.8 277.5,838.2 C279.4,836.6 280,833 281.5,831 C283,829 285.1,826.6 286.7,826.4 C288.3,826.2 290.1,827 291.3,829.7 C292.5,832.4 292.9,838 293.9,842.8 C294.9,847.6 295.3,850.7 297.2,858.6 C299.1,866.5 302.6,879.1 305.5,890 C308.4,900.9 312.4,916.1 314.3,924.2 C316.2,932.3 315.1,931.4 316.9,938.7 C318.7,946 322.1,958 325,968 C327.9,978 331.8,992 334,999 C336.2,1006 336.7,1005.9 338.4,1010 C340.1,1014.1 342.1,1019.6 344.2,1023.4 C346.3,1027.2 348.4,1031.2 350.9,1032.6 C353.4,1034 356.1,1031.9 359.3,1031.8 C362.5,1031.7 366.9,1031 370.1,1031.8 C373.3,1032.6 375.4,1034.7 378.5,1036.8 C381.6,1038.9 384.7,1040.9 388.5,1044.3 C392.3,1047.7 397.6,1053.3 401.1,1056.9 C404.6,1060.5 406.6,1063.3 409.4,1066.1 C412.2,1068.9 414.3,1071.2 417.8,1073.6 C421.3,1076 426.1,1078.5 430.3,1080.3 C434.5,1082.1 439.4,1082.7 442.9,1084.4 C446.4,1086.1 448.4,1088.2 451.2,1090.3 C454,1092.4 456.8,1095.6 459.6,1097 C462.4,1098.4 465.2,1099 468,1098.7 C470.8,1098.4 473.5,1096.8 476.3,1095.3 C479.1,1093.8 481.9,1090.9 484.7,1089.5 C487.5,1088.1 490.5,1087 493,1087 C495.5,1087 498,1088 499.7,1089.5 C501.4,1091 501.4,1092.7 503.1,1096.2 C504.8,1099.7 507.2,1103.6 509.8,1110.4 C512.5,1117.2 515.9,1127.8 519,1137 C522.1,1146.2 526.2,1158.9 528.6,1165.7 C531,1172.5 530.9,1173.3 533.3,1178.1 C535.7,1182.9 540.1,1189.7 542.8,1194.3 C545.5,1198.9 546.8,1202.7 549.5,1205.7 C552.2,1208.7 556.1,1211.6 559,1212.4 C561.9,1213.2 563.9,1211.6 566.6,1210.5 C569.3,1209.4 573,1208.1 575.2,1205.7 C577.4,1203.3 577.5,1199.3 580,1196.2 C582.5,1193.1 586.7,1190 590,1187 C593.3,1184 597.4,1180.7 600,1178.1 C602.6,1175.5 603.3,1174.2 605.7,1171.4 C608.1,1168.6 611,1165 614.3,1161 C617.6,1157 622.8,1150.8 625.7,1147.6 C628.6,1144.4 628.8,1144.3 631.5,1142 C634.2,1139.7 638.5,1136.5 642,1134 C645.5,1131.5 649.7,1128.5 652.4,1126.7 C655.1,1124.9 655.2,1124.4 658.1,1122.9 C661,1121.4 666.4,1119.1 670,1117.5 C673.6,1115.9 677.2,1115 680,1113.5 C682.8,1112 683.9,1111.3 686.7,1108.5 C689.5,1105.7 693.4,1100.8 696.7,1096.8 C700.1,1092.8 703.7,1087.6 706.8,1084.3 C709.9,1081 711.9,1078.7 715.1,1076.8 C718.3,1074.9 722.8,1073.9 726,1072.8 C729.2,1071.7 731.5,1071 734.3,1070 C737.1,1069 738.5,1067.7 742.7,1067 C746.9,1066.3 754.5,1065.9 759.4,1066 C764.3,1066.1 768.5,1067.5 772,1067.6 C775.5,1067.6 777.5,1066.2 780.3,1066.3 C783.1,1066.4 785.2,1067.8 788.7,1068.4 C792.2,1069 797.7,1068.5 801.2,1069.8 C804.7,1071.1 806.4,1073.1 809.6,1076.5 C812.8,1079.9 817.3,1086.7 820.5,1090.1 C823.7,1093.5 825.7,1095 828.8,1096.8 C831.9,1098.6 835.4,1099.3 838.9,1101 C842.4,1102.7 846.8,1104.5 849.7,1106.9 C852.6,1109.3 854.4,1113 856.4,1115.2 C858.4,1117.4 859.7,1117.5 862,1120 C864.3,1122.5 867.3,1126.1 870,1130.1 C872.7,1134.1 875.4,1140.1 878.1,1144.1 C880.8,1148.1 883.8,1151.2 886.1,1154.2 C888.4,1157.2 889.8,1159.5 892.1,1162.2 C894.4,1164.9 897.2,1167.9 900.1,1170.2 C903,1172.5 906.5,1174.3 909.2,1176.3 C911.9,1178.3 913,1181.8 916.2,1182.3 C919.4,1182.8 923.9,1180.1 928.2,1179.3 C932.6,1178.5 938.6,1178.8 942.3,1177.3 C946,1175.8 947.1,1173.5 950.3,1170.2 C953.5,1166.9 957.9,1161 961.3,1157.2 C964.6,1153.4 967.2,1150.4 970.4,1147.2 C973.6,1144 976.6,1141.8 980.4,1138.1 C984.2,1134.4 989.5,1128.6 993.4,1125.1 C997.2,1121.6 1000.6,1118.8 1003.5,1117.1 C1006.4,1115.4 1008.5,1114.8 1010.5,1115 C1012.5,1115.2 1013.5,1116.4 1015.5,1118.1 C1017.5,1119.8 1019.5,1121.9 1022.5,1125.1 C1025.5,1128.3 1029.8,1132.9 1033.6,1137.1 C1037.4,1141.3 1042.4,1146.3 1045.6,1150.2 C1048.8,1154.1 1050.2,1156.9 1052.6,1160.2 C1054.9,1163.5 1056.7,1167.6 1059.7,1170.2 C1062.7,1172.8 1066.7,1175.2 1070.7,1175.8 C1074.7,1176.4 1079.9,1174.5 1083.8,1173.8 C1087.7,1173.1 1091.6,1172.4 1094.1,1171.9 C1096.6,1171.4 1097.2,1171.1 1098.8,1170.7 C1100.3,1170.2 1102,1169.9 1103.4,1169.2 C1104.7,1168.6 1105.5,1167.5 1106.8,1166.7 C1108.1,1166 1109.8,1165.3 1111.4,1164.6 C1113,1164 1114.6,1163.6 1116.1,1162.9 C1117.7,1162.2 1119.2,1161.1 1120.9,1160.4 C1122.5,1159.7 1124.5,1159.3 1126,1158.6 C1127.5,1157.9 1128.3,1156.9 1129.7,1156.1 C1131.1,1155.2 1132.8,1154.3 1134.3,1153.6 C1135.8,1152.8 1136.9,1151.9 1138.6,1151.6 C1140.3,1151.2 1142.8,1151.6 1144.5,1151.4 C1146.3,1151.2 1147.7,1150.5 1149.3,1150.3 C1150.9,1150.1 1152.5,1150.5 1154.1,1150.3 C1155.7,1150 1157.3,1149.4 1158.9,1148.8 C1160.4,1148.1 1161.9,1146.8 1163.6,1146.4 C1165.2,1145.9 1167,1146.3 1168.6,1146 C1170.2,1145.7 1171.7,1145.1 1173.2,1144.6 C1174.7,1144 1176,1143.4 1177.5,1142.8 C1179,1142.3 1180.6,1142 1182.3,1141.4 C1183.9,1140.9 1185.9,1139.9 1187.5,1139.3 C1189.1,1138.7 1190.3,1138.3 1191.8,1137.9 C1193.4,1137.4 1195.5,1137.4 1197.1,1136.8 C1198.6,1136.2 1199.7,1135 1201.2,1134.3 C1202.8,1133.6 1204.9,1133.1 1206.4,1132.7 C1208,1132.3 1209.1,1132.2 1210.6,1131.8 C1212.2,1131.4 1214.2,1130.6 1215.9,1130.3 C1217.7,1129.9 1219.6,1129.9 1221.1,1129.6 C1222.7,1129.2 1223.7,1128.7 1225.3,1128.3 C1226.9,1127.9 1228.9,1127.7 1230.5,1127.1 C1232.1,1126.5 1233.3,1125.4 1234.7,1124.7 C1236.1,1124 1237.3,1123.4 1238.8,1122.8 C1240.4,1122.1 1242.3,1121 1244,1120.6 C1245.8,1120.3 1247.7,1120.6 1249.3,1120.4 C1250.9,1120.3 1251.9,1120.2 1253.5,1119.8 C1255.1,1119.4 1257.2,1118.5 1258.7,1118.1 C1260.3,1117.6 1261.4,1117.8 1262.9,1117.3 C1264.5,1116.8 1266.5,1115.7 1268.1,1115 C1269.7,1114.3 1271.1,1113.6 1272.7,1113 C1274.3,1112.4 1276.1,1111.8 1277.5,1111.3 C1279,1110.8 1279.7,1110.3 1281.4,1110 C1283,1109.6 1285.5,1109.4 1287.3,1109.2 C1289.1,1109 1290.9,1109.1 1292.4,1109 C1293.8,1108.8 1294.4,1108.4 1296.1,1108.5 C1297.7,1108.6 1300.5,1109.4 1302.3,1109.5 C1304.1,1109.6 1305.3,1109 1306.9,1109.1 C1308.5,1109.2 1310.2,1110 1311.9,1110.1 C1313.6,1110.2 1315.4,1109.5 1317.2,1109.7 C1318.9,1109.8 1320.7,1110.6 1322.4,1110.8 C1324.2,1111 1326.4,1111 1327.7,1110.7 C1329,1110.5 1328.9,1109.5 1330.2,1109.3 C1331.5,1109.1 1333.5,1109.2 1335.2,1109.4 C1336.9,1109.5 1338.6,1110.1 1340.2,1110.1 C1341.9,1110 1343.6,1109 1345.2,1108.8 C1346.9,1108.6 1348.6,1109.2 1350.3,1109 C1351.9,1108.8 1353.6,1107.9 1355.3,1107.5 C1357,1107 1358.6,1106.5 1360.3,1106.4 C1362,1106.3 1363.6,1106.8 1365.3,1106.8 C1367,1106.8 1368.7,1106.8 1370.3,1106.6 C1372,1106.3 1373.7,1105.6 1375.4,1105.3 C1377,1104.9 1378.7,1104.7 1380.4,1104.5 C1382,1104.4 1383.7,1104.3 1385.4,1104.4 C1387.1,1104.4 1388.7,1104.9 1390.4,1104.8 C1392.1,1104.8 1393.7,1104.3 1395.4,1103.9 C1397.1,1103.5 1398.8,1102.6 1400.4,1102.2 C1402.1,1101.9 1403.8,1102 1405.5,1101.8 C1407.1,1101.5 1408.8,1101.1 1410.5,1100.8 C1412.1,1100.6 1413.8,1100.1 1415.5,1100.1 C1417.2,1100 1418.8,1100.8 1420.5,1100.6 C1422.2,1100.4 1423.8,1099.2 1425.5,1098.9 C1427.2,1098.6 1428.9,1098.9 1430.5,1098.8 C1432.2,1098.6 1433.9,1098.2 1435.5,1097.8 C1437.2,1097.5 1438.9,1096.9 1440.6,1096.7 C1442.2,1096.6 1443.9,1097.2 1445.6,1097 C1447.3,1096.8 1448.9,1095.7 1450.6,1095.5 C1452.3,1095.3 1454.1,1096.1 1455.8,1095.9 C1457.6,1095.8 1460,1094.9 1461.4,1094.8 C1462.8,1094.7 1462.8,1095.2 1464.2,1095.2 C1465.5,1095.2 1467.8,1094.8 1469.6,1094.7 C1471.3,1094.6 1472.7,1094.5 1474.6,1094.7 C1476.4,1094.8 1478.7,1095.5 1480.7,1095.8 C1482.7,1096 1484.5,1096 1486.3,1096.1 C1488.1,1096.1 1489.9,1096.1 1491.5,1096.2 C1493.1,1096.3 1494.3,1097 1495.9,1096.7 C1497.5,1096.4 1499.4,1095 1501,1094.3 C1502.5,1093.7 1503.8,1093.3 1505.2,1092.9 C1506.7,1092.5 1508.2,1092.2 1509.8,1091.9 C1511.5,1091.5 1513.4,1091 1515.2,1090.8 C1516.9,1090.7 1518.6,1090.4 1520.3,1091 C1521.9,1091.5 1523.6,1093.3 1525.1,1093.9 C1526.6,1094.5 1527.9,1094 1529.4,1094.5 C1530.9,1094.9 1532.7,1096.1 1534.3,1096.6 C1535.8,1097 1537.2,1097.5 1538.9,1097.4 C1540.5,1097.3 1542.5,1096.2 1544,1095.9 C1545.6,1095.6 1546.5,1095.8 1548,1095.7 C1549.5,1095.6 1551.3,1095.4 1553,1095.4 C1554.8,1095.4 1556.5,1095.3 1558.3,1095.5 C1560.2,1095.6 1562.4,1096.3 1564.2,1096.2 C1566,1096.1 1567.5,1095 1569.1,1094.9 C1570.8,1094.8 1572.6,1095.3 1574.2,1095.5 C1575.8,1095.8 1577.1,1095.9 1578.6,1096.2 C1580.1,1096.5 1581.6,1097 1583.2,1097.5 C1584.8,1098.1 1586.6,1099.2 1588.3,1099.5 C1589.9,1099.9 1591.3,1099.8 1592.9,1099.9 C1594.6,1099.9 1596.3,1100.2 1598,1099.9 C1599.7,1099.6 1601.6,1098.8 1603.1,1097.9 C1604.6,1097 1605.7,1095.7 1607,1094.8 C1608.4,1093.9 1609.8,1092.9 1611.3,1092.4 C1612.8,1091.9 1614.5,1091.8 1616.1,1091.5 C1617.8,1091.2 1619.7,1090.7 1621.4,1090.5 C1623.1,1090.3 1624.8,1090.1 1626.4,1090.3 C1628,1090.5 1629.6,1091.1 1631,1091.9 C1632.5,1092.8 1633.8,1094.2 1635.2,1095.4 C1636.5,1096.5 1637.6,1098.3 1639.1,1098.8 C1640.5,1099.2 1642.1,1098.3 1643.7,1098.2 C1645.3,1098.1 1647.2,1098.5 1648.8,1098.3 C1650.4,1098.1 1651.5,1097.5 1653.1,1096.9 C1654.6,1096.2 1656.6,1095 1658.2,1094.2 C1659.9,1093.4 1661.4,1092.6 1663,1091.9 C1664.5,1091.2 1666.1,1090.4 1667.5,1090 C1668.9,1089.7 1669.9,1089.6 1671.4,1089.9 C1672.9,1090.2 1674.8,1091.6 1676.7,1091.8 C1678.5,1092 1680.6,1091.1 1682.4,1091.2 C1684.2,1091.3 1685.7,1092.3 1687.4,1092.4 C1689,1092.4 1690.8,1091.5 1692.4,1091.4 C1694,1091.3 1695.3,1091.5 1696.8,1091.6 C1698.4,1091.7 1700.2,1091.8 1701.8,1092 C1703.3,1092.2 1704.6,1092.4 1706.3,1092.7 C1708,1093 1710.1,1093.3 1711.8,1093.8 C1713.5,1094.2 1714.8,1095.2 1716.4,1095.5 C1718,1095.7 1720.4,1095.1 1721.5,1095.2 C1722.6,1095.3 1722.6,1096 1722.8,1096.1" fill="none" stroke="#3b006d" stroke-width="8.6" stroke-linecap="round" stroke-linejoin="round" stroke-dasharray="64.2 28.3 50.6 24.3 74.9 14.3 43.1 23.3 60.9 21.8 55.9 18.3 50.8 9.8 27.2 9.8 19.9 9.8 75.3 22.3 51.9 19.3 55.3 17.3 20.7 15.3 30.8 10.3 17.5 13.3 18.5 13.3 28.5 12.3 114.8 12.3 21.5 12.3 35.4 13.3 29.9 12.3 53.8 13.3 56.9 13.3 30.9 13.3 508.5 10.3 17.6 11.8 23.2 11.8 23.8 9.8 22.5 11.8 17.8 11.8 75.8 10" clip-path="url(#tailclip)"/>
<text x="1617" y="1069.2" font-size="40.5" font-weight="bold" fill="#6c0b5e">c-DTA</text>
<text x="1952" y="1166.9" font-size="42" font-weight="bold" fill="#04702f">TG</text>
<text x="362.5" y="210.5" font-size="30.3" fill="#2a8a4f" stroke="#2a8a4f" stroke-width="0.35" letter-spacing="0.45">Mass Change:</text><text x="699.3" y="210.5" font-size="30.3" fill="#2a8a4f" stroke="#2a8a4f" stroke-width="0.35" letter-spacing="0.3" text-anchor="end">-3.32 %</text><text x="362.5" y="245.5" font-size="30.3" fill="#2a8a4f" stroke="#2a8a4f" stroke-width="0.35" letter-spacing="0.45">Residual mass:</text><text x="699.3" y="245.5" font-size="30.3" fill="#2a8a4f" stroke="#2a8a4f" stroke-width="0.35" letter-spacing="0.3" text-anchor="end">96.11 %</text>
<text x="596" y="297" font-size="30.3" fill="#2a8a4f" stroke="#2a8a4f" stroke-width="0.35" letter-spacing="0.45">Mass Change:</text><text x="932.8" y="297" font-size="30.3" fill="#2a8a4f" stroke="#2a8a4f" stroke-width="0.35" letter-spacing="0.3" text-anchor="end">-8.76 %</text><text x="596" y="332" font-size="30.3" fill="#2a8a4f" stroke="#2a8a4f" stroke-width="0.35" letter-spacing="0.45">Residual mass:</text><text x="932.8" y="332" font-size="30.3" fill="#2a8a4f" stroke="#2a8a4f" stroke-width="0.35" letter-spacing="0.3" text-anchor="end">87.15 %</text>
<text x="963.5" y="577.5" font-size="30.3" fill="#2a8a4f" stroke="#2a8a4f" stroke-width="0.35" letter-spacing="0.45">Mass Change:</text><text x="1311.8" y="577.5" font-size="30.3" fill="#2a8a4f" stroke="#2a8a4f" stroke-width="0.35" letter-spacing="0.3" text-anchor="end">-48.16 %</text><text x="963.5" y="612.5" font-size="30.3" fill="#2a8a4f" stroke="#2a8a4f" stroke-width="0.35" letter-spacing="0.45">Residual mass:</text><text x="1311.8" y="612.5" font-size="30.3" fill="#2a8a4f" stroke="#2a8a4f" stroke-width="0.35" letter-spacing="0.3" text-anchor="end">38.49 %</text>
<text x="1417.5" y="965.2" font-size="30.3" fill="#2a8a4f" stroke="#2a8a4f" stroke-width="0.35" letter-spacing="0.45">Mass Change:</text><text x="1763.8" y="965.2" font-size="30.3" fill="#2a8a4f" stroke="#2a8a4f" stroke-width="0.35" letter-spacing="0.3" text-anchor="end">-29.32 %</text><text x="1417.5" y="1000.2" font-size="30.3" fill="#2a8a4f" stroke="#2a8a4f" stroke-width="0.35" letter-spacing="0.45">Residual mass:</text><text x="1763.8" y="1000.2" font-size="30.3" fill="#2a8a4f" stroke="#2a8a4f" stroke-width="0.35" letter-spacing="0.3" text-anchor="end">7.71 %</text>
<text x="1200" y="1492" font-size="86" text-anchor="middle" fill="#000" style="font-family:'Liberation Serif','Times New Roman',serif">(<tspan font-weight="bold">a</tspan>)</text>
</svg></body></html>
